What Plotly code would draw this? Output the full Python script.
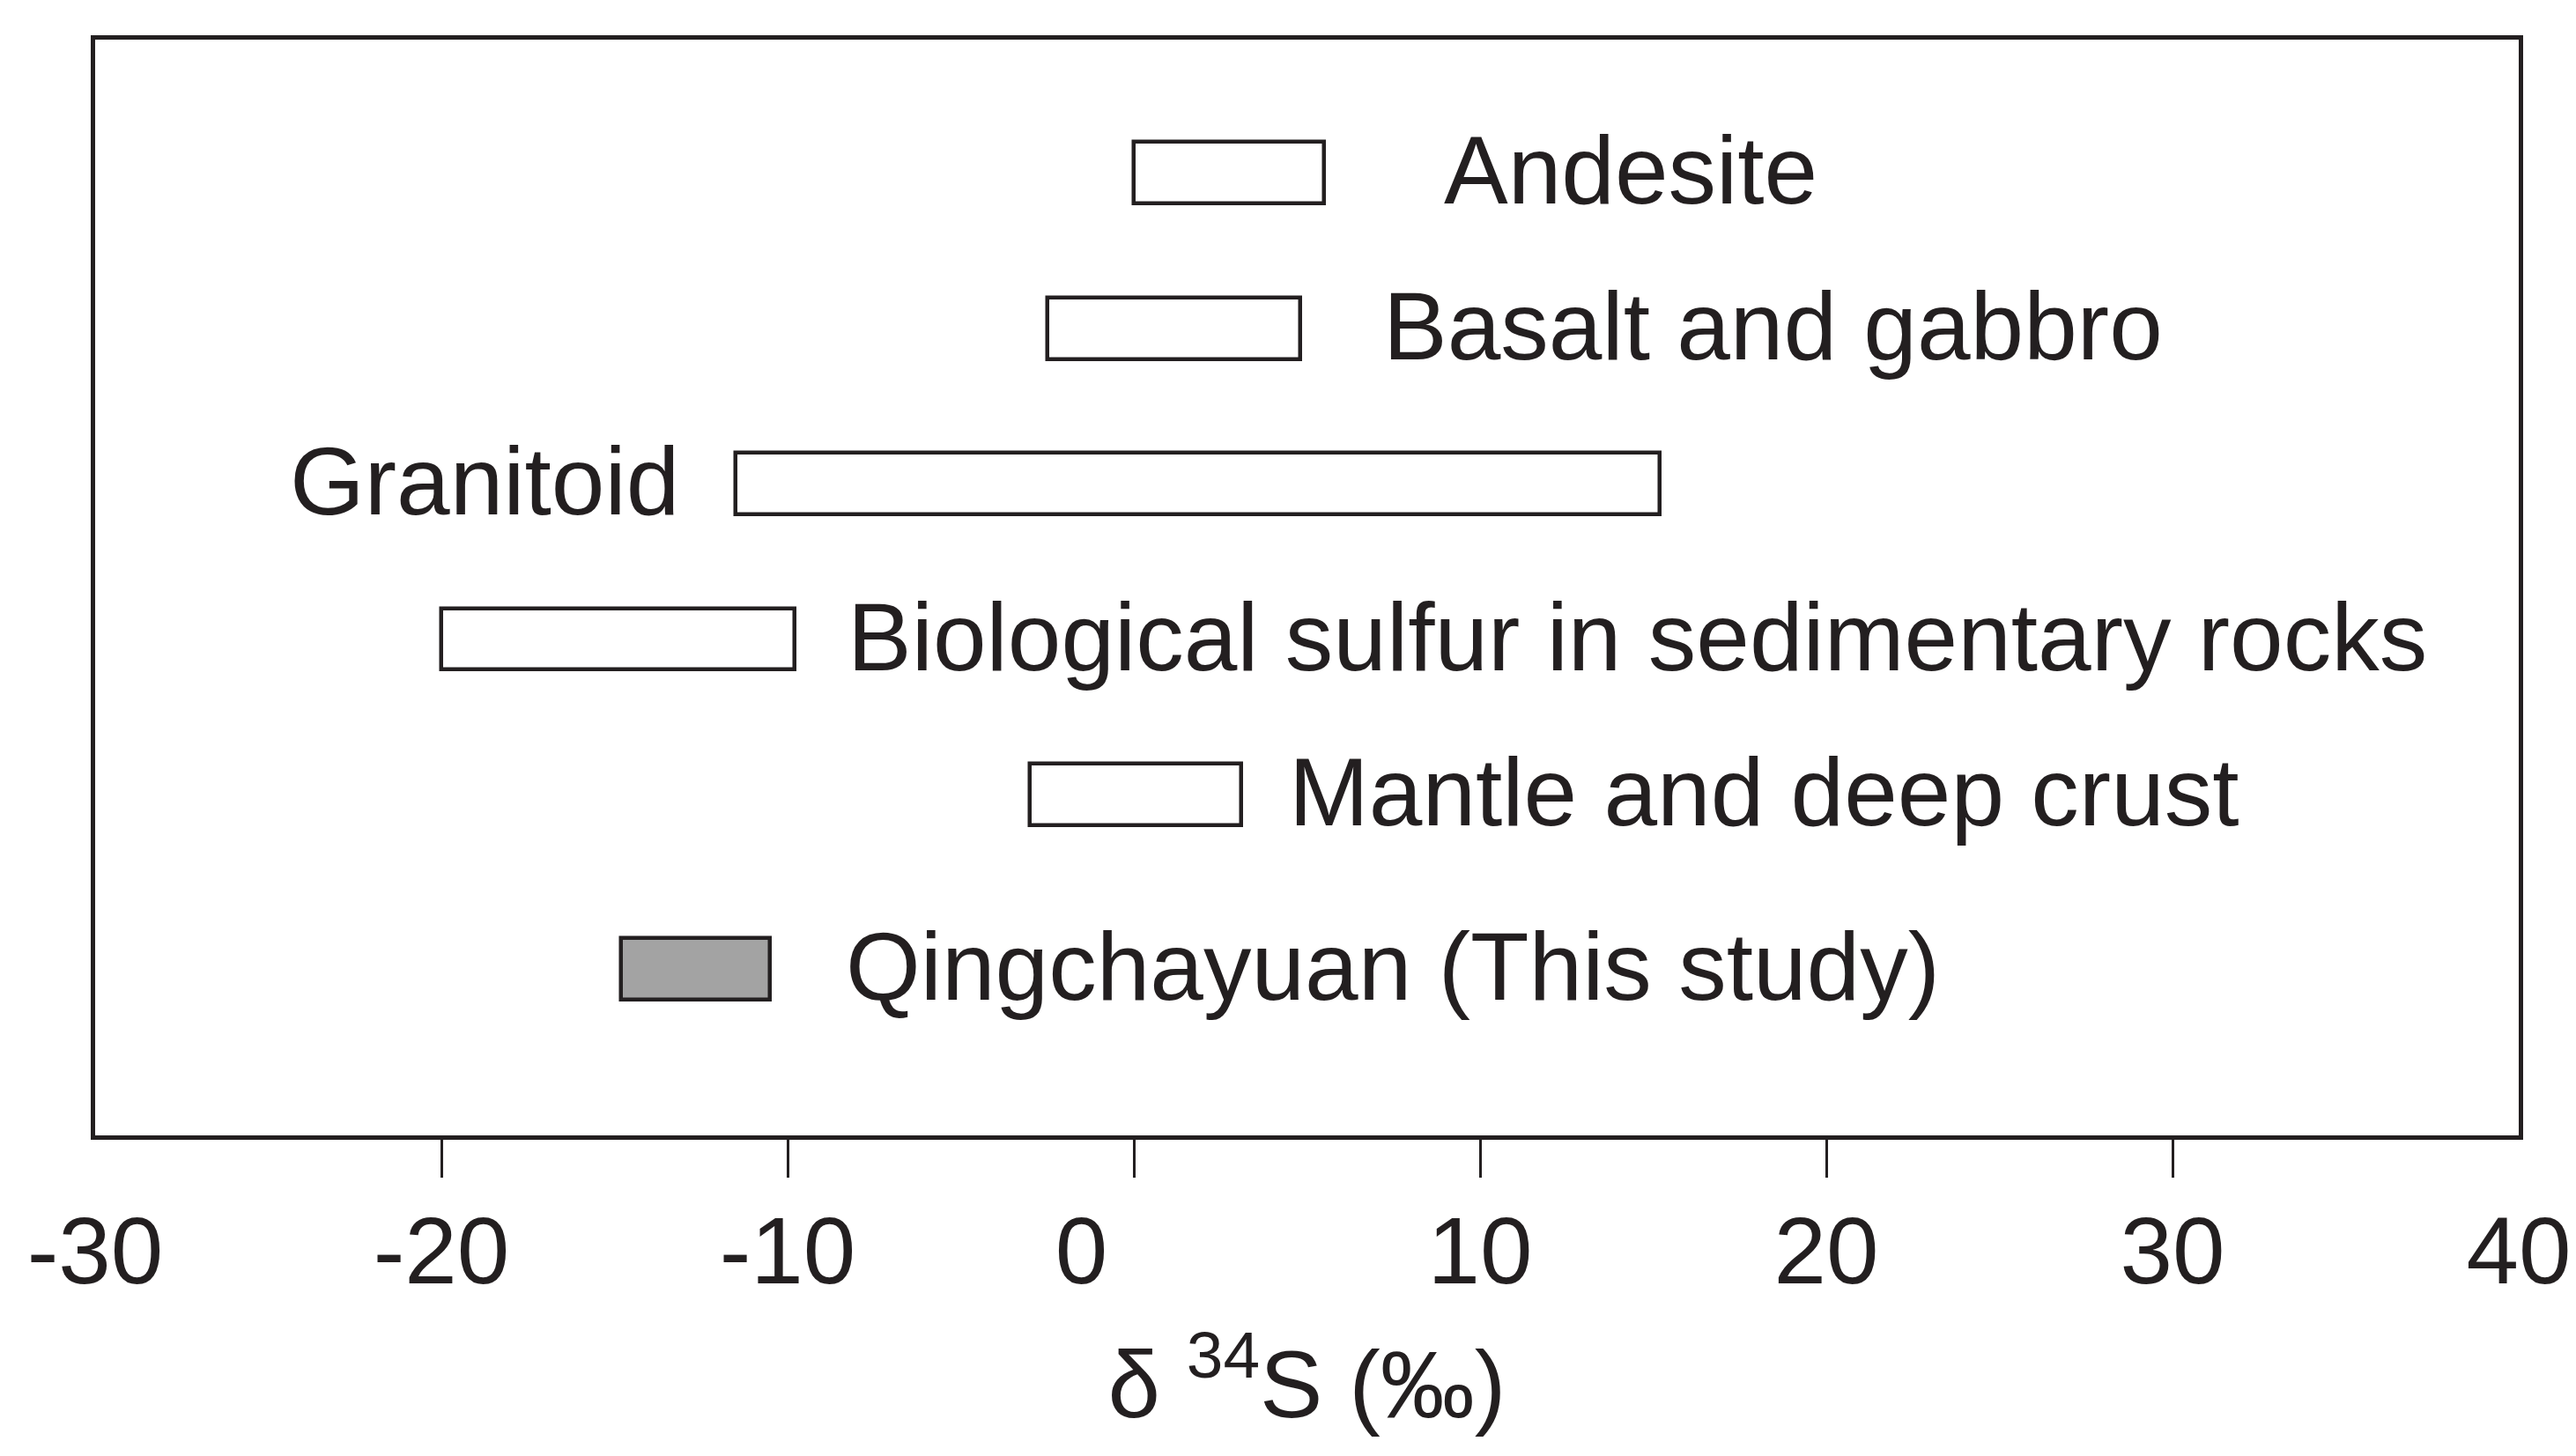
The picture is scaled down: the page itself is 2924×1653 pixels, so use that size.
import plotly.graph_objects as go

# ---- data (δ34S ranges, ‰) ----
categories = ["Qingchayuan (This study)", "Mantle and deep crust",
              "Biological sulfur in sedimentary rocks", "Granitoid",
              "Basalt and gabbro", "Andesite"]
range_min = [-14.8, -3.0, -20.0, -11.5, -2.5, 0.0]
range_max = [-10.5, 3.1, -9.8, 15.2, 4.8, 5.5]
tick_values = [-30, -20, -10, 0, 10, 20, 30, 40]
tick_labels = ["-30", "-20", "-10", "0\u00a0\u00a0\u00a0\u00a0", "10", "20", "30", "40"]
inner_ticks = [-20, -10, 0, 10, 20, 30]

# ---- layout / style helpers (not data) ----
row_pos = [0.0, 1.12, 2.12, 3.12, 4.12, 5.12]   # vertical slot of each row
label_side = ["right", "right", "right", "left", "right", "right"]
label_gap = [84, 52, 58, 62, 92, 134]
fill_colors = ["#a3a3a3", "white", "white", "white", "white", "white"]
INK = "#231f20"
FONT = "Liberation Sans, Arial, Helvetica, sans-serif"
LABEL_SIZE = 109
TICK_SIZE = 107

widths = [b - a for a, b in zip(range_min, range_max)]

fig = go.Figure()
fig.add_trace(go.Bar(
    y=row_pos, x=widths, base=range_min, orientation="h",
    marker=dict(color=fill_colors, line=dict(color=INK, width=4.5)),
    width=0.395, showlegend=False, hoverinfo="skip",
))
# invisible companion trace so the tick-only overlay axis is drawn
fig.add_trace(go.Scatter(
    x=range_min, y=row_pos, xaxis="x2", mode="markers",
    marker=dict(opacity=0), showlegend=False, hoverinfo="skip",
))

annotations = []
for cat, yy, a, b, side, gap in zip(categories, row_pos, range_min, range_max,
                                     label_side, label_gap):
    right = side == "right"
    annotations.append(dict(
        x=b if right else a, y=yy, xref="x", yref="y", text=cat,
        showarrow=False, xanchor="left" if right else "right", yanchor="middle",
        xshift=gap if right else -gap, yshift=3,
        font=dict(size=LABEL_SIZE, color=INK, family=FONT)))

fig.update_layout(
    width=2924, height=1653,
    margin=dict(l=100, r=73, t=37, b=372),
    paper_bgcolor="white", plot_bgcolor="white",
    font=dict(family=FONT, color=INK),
    annotations=annotations,
    xaxis=dict(
        range=[-30, 40], tickmode="array", tickvals=tick_values, ticktext=tick_labels,
        ticks="", showgrid=False, zeroline=False,
        showline=True, mirror=True, linecolor=INK, linewidth=5,
        tickfont=dict(size=TICK_SIZE, color=INK, family=FONT),
        ticklabelstandoff=35,
        title=dict(text="δ <sup>34</sup>S (‰)",
                   font=dict(size=TICK_SIZE, color=INK, family=FONT),
                   standoff=56),
    ),
    xaxis2=dict(
        range=[-30, 40], overlaying="x", side="bottom", anchor="y",
        tickmode="array", tickvals=inner_ticks, ticks="outside", ticklen=47,
        tickwidth=3, tickcolor=INK, showticklabels=False,
        showgrid=False, zeroline=False, showline=False,
    ),
    yaxis=dict(
        range=[-1.073, 5.977], showticklabels=False, ticks="", showgrid=False,
        zeroline=False, showline=True, mirror=True, linecolor=INK, linewidth=5,
    ),
    bargap=0,
)

fig.write_html("out.html")
